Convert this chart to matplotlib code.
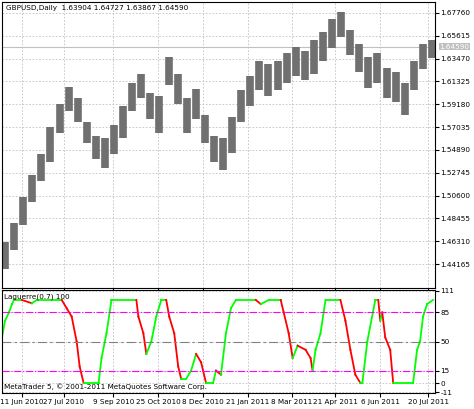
import numpy as np
import matplotlib.pyplot as plt

# price path (one bar per ~10 px), lows and highs
lows = [1.437, 1.455, 1.478, 1.500, 1.520, 1.538, 1.565, 1.585, 1.575, 1.555,
        1.540, 1.532, 1.545, 1.560, 1.585, 1.598, 1.578, 1.565, 1.610, 1.592,
        1.565, 1.578, 1.555, 1.538, 1.530, 1.546, 1.575, 1.590, 1.605, 1.600,
        1.605, 1.612, 1.618, 1.615, 1.620, 1.632, 1.645, 1.655, 1.638, 1.622,
        1.607, 1.612, 1.598, 1.594, 1.582, 1.605, 1.625, 1.635]
highs = [1.462, 1.480, 1.505, 1.525, 1.545, 1.570, 1.592, 1.608, 1.598, 1.575,
         1.562, 1.560, 1.572, 1.590, 1.612, 1.620, 1.602, 1.600, 1.636, 1.620,
         1.598, 1.606, 1.582, 1.562, 1.560, 1.580, 1.605, 1.618, 1.632, 1.630,
         1.632, 1.640, 1.646, 1.642, 1.652, 1.660, 1.672, 1.678, 1.662, 1.648,
         1.636, 1.640, 1.626, 1.622, 1.612, 1.632, 1.648, 1.652]

# Laguerre indicator, sampled by pixel position
lag_x = [0, 3, 7, 10, 12, 20, 30, 35, 60, 65, 70, 75, 78, 82, 97, 100, 105, 110,
         135, 137, 142, 145, 150, 155, 160, 165, 168, 173, 177, 180, 185, 190, 195,
         200, 205, 212, 215, 220, 225, 230, 235, 255, 260, 268, 280, 283, 288, 292,
         297, 305, 310, 312, 315, 320, 325, 340, 345, 350, 355, 360, 362, 367, 375,
         378, 380, 382, 385, 390, 393, 413, 417, 420, 423, 427, 433]
lag_y = [55, 75, 85, 95, 100, 100, 96, 100, 100, 90, 80, 50, 20, 0, 0, 30, 60, 100,
         100, 80, 60, 35, 50, 80, 100, 100, 80, 60, 20, 5, 5, 15, 35,
         25, 0, 0, 15, 10, 60, 90, 100, 100, 95, 100, 100, 85, 60, 30,
         45, 40, 30, 15, 40, 60, 100, 100, 75, 40, 10, 0, 0, 50, 100,
         100, 75, 85, 55, 40, 0, 0, 40, 50, 80, 95, 100]

date_pos = [20, 62, 112, 157, 202, 247, 291, 335, 380, 428]
date_labels = ['11 Jun 2010', '27 Jul 2010', '9 Sep 2010', '25 Oct 2010', '8 Dec 2010',
               '21 Jan 2011', '8 Mar 2011', '21 Apr 2011', '6 Jun 2011', '20 Jul 2011']
price_ticks = [1.67760, 1.65615, 1.63470, 1.61325, 1.59180, 1.57035, 1.54890,
               1.52745, 1.50600, 1.48455, 1.46310, 1.44165]

W, H = 474, 409
fig = plt.figure(figsize=(W / 100, H / 100), dpi=100)
fs = 5.2

def box(l, t, r, b):
    return [l / W, 1 - b / H, (r - l) / W, (b - t) / H]

ax = fig.add_axes(box(2, 2, 435, 288))
ax2 = fig.add_axes(box(2, 290, 435, 393))

xs = np.linspace(3, 432, len(lows))
ax.vlines(xs, lows, highs, color='#707070', lw=5.5)
ax.set_xlim(0, 435)
ax.set_ylim(1.6776 - 277 * 0.000933, 1.6776 + 11 * 0.000933)
ax.yaxis.tick_right()
ax.set_yticks(price_ticks)
ax.set_yticklabels(['%.5f' % v for v in price_ticks], fontsize=fs)
ax.set_xticks(date_pos)
ax.set_xticklabels([])
ax.grid(color='#c0c0c0', ls=(0, (2, 2)), lw=0.6)
ax.set_axisbelow(True)
ax.tick_params(length=3, pad=1)
ax.axhline(1.64590, color='#c0c0c0', lw=0.8, zorder=0.5)
ax.text(1.01, 1.64590, '1.64590', transform=ax.get_yaxis_transform(), fontsize=fs,
        color='white', va='center', bbox=dict(fc='#c0c0c0', ec='none', pad=0.5))
ax.text(0.01, 0.99, 'GBPUSD,Daily  1.63904 1.64727 1.63867 1.64590', transform=ax.transAxes,
        fontsize=fs, va='top')

for i in range(len(lag_x) - 1):
    c = '#00ff00' if lag_y[i + 1] >= lag_y[i] else '#ff0000'
    ax2.plot(lag_x[i:i + 2], lag_y[i:i + 2], color=c, lw=1.3)
ax2.axhline(85, color='#ff00ff', ls='-.', lw=0.8)
ax2.axhline(15, color='#ff00ff', ls='-.', lw=0.8)
ax2.axhline(50, color='#808080', ls=(0, (8, 3, 2, 3)), lw=0.8)
ax2.set_xlim(0, 435)
ax2.set_ylim(-12, 112)
ax2.yaxis.tick_right()
ax2.set_yticks([111, 85, 50, 15, 0, -11])
ax2.set_yticklabels(['111', '85', '50', '15', '0', '-11'], fontsize=fs)
ax2.set_xticks(date_pos)
ax2.set_xticklabels(date_labels, fontsize=fs)
ax2.grid(color='#c0c0c0', ls=(0, (2, 2)), lw=0.6)
ax2.tick_params(length=3, pad=1)
ax2.text(0.005, 0.97, 'Laguerre(0.7) 100', transform=ax2.transAxes, fontsize=fs, va='top')
ax2.text(0.005, 0.03, 'MetaTrader 5, \u00a9 2001-2011 MetaQuotes Software Corp.',
         transform=ax2.transAxes, fontsize=fs, va='bottom')

fig.savefig('out.png', dpi=100)
